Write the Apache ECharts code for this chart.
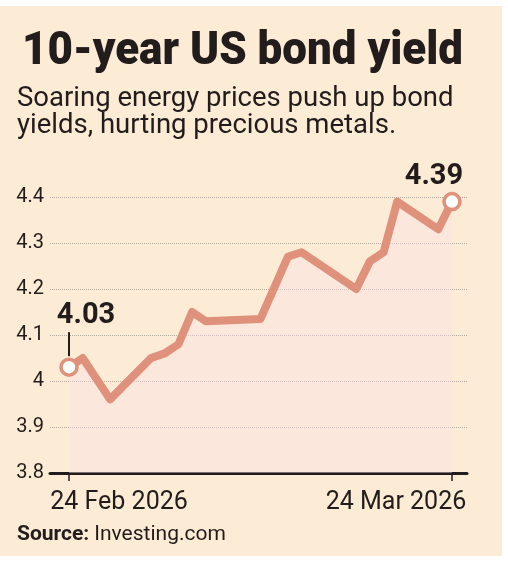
<!DOCTYPE html>
<html><head><meta charset="utf-8">
<script src="https://cdn.jsdelivr.net/npm/echarts@6/dist/echarts.min.js"></script>
<style>
html,body{margin:0;padding:0;background:#fff;}
#bg{position:absolute;left:0;top:6px;width:502px;height:550px;background:#FCEBD5;}
#chart{position:absolute;left:0;top:0;width:508px;height:561px;}
</style></head><body>
<div id="bg"></div><div id="chart"></div>
<script>
const titleText = '10-year US bond yield';
const subtitleLines = ['Soaring energy prices push up bond', 'yields, hurting precious metals.'];
const sourceLabel = 'Source:';
const sourceName = 'Investing.com';

const dates = ['2026-02-24','2026-02-25','2026-02-27','2026-03-02','2026-03-03','2026-03-04','2026-03-05','2026-03-06','2026-03-10','2026-03-12','2026-03-13','2026-03-17','2026-03-18','2026-03-19','2026-03-20','2026-03-23','2026-03-24'];
const yields = [4.03,4.05,3.96,4.05,4.06,4.08,4.15,4.13,4.135,4.27,4.28,4.20,4.26,4.28,4.39,4.33,4.39];
const yMin = 3.8, yMax = 4.4, yStep = 0.1;
const xTickDates = ['2026-02-24','2026-03-24'];
const xTickLabels = ['24 Feb 2026','24 Mar 2026'];

const DAY = 86400000;
const ts = d => { const p = d.split('-').map(Number); return Date.UTC(p[0], p[1]-1, p[2]); };
const xTicks = xTickDates.map(ts);
const seriesData = dates.map((d, i) => [ts(d), yields[i]]);

const INK = '#231c1c';
const LINE = '#DF917B';
const FONT = "Roboto, 'Noto Sans', sans-serif";
const TITLE_WEIGHT = 900;

// fit the condensed headline to its width in the reference
const mctx = document.createElement('canvas').getContext('2d');
mctx.font = TITLE_WEIGHT + " 46px Roboto, 'Noto Sans', sans-serif";
const titleScale = 441 / mctx.measureText(titleText).width;

const chart = echarts.init(document.getElementById('chart'), null, {renderer: 'canvas'});

const endIdx = seriesData.length - 1;
const markerStyle = {color: '#fff', borderColor: LINE, borderWidth: 3.5};
const data = seriesData.map((p, i) => {
  if (i === 0) return {value: p, symbol: 'circle', symbolSize: 16, itemStyle: markerStyle,
    label: {show: true, position: 'top', offset: [17, -22.5], formatter: () => yields[0].toFixed(2),
      fontFamily: FONT, fontWeight: 'bold', fontSize: 29, color: INK}};
  if (i === endIdx) return {value: p, symbol: 'circle', symbolSize: 16, itemStyle: markerStyle,
    label: {show: true, position: 'top', offset: [-18, 4.5], formatter: () => yields[endIdx].toFixed(2),
      fontFamily: FONT, fontWeight: 'bold', fontSize: 29, color: INK}};
  return {value: p, symbol: 'none'};
});

chart.setOption({
  animation: false,
  backgroundColor: 'transparent',
  grid: {left: 50, right: 41, top: 197, bottom: 88, containLabel: false},
  title: [
    {text: subtitleLines.join('\n'), left: 17, top: 86, padding: 0,
      textStyle: {fontFamily: FONT, fontWeight: 'normal', fontSize: 27.5, lineHeight: 26.5, color: INK}},
    {text: '{b|' + sourceLabel + '} {r|' + sourceName + '}', left: 17, top: 524, padding: 0,
      textStyle: {rich: {
        b: {fontFamily: FONT, fontWeight: 'bold', fontSize: 21, color: INK},
        r: {fontFamily: FONT, fontWeight: 'normal', fontSize: 21, color: INK}}}}
  ],
  graphic: [{type: 'text', x: 22, y: 29, scaleX: titleScale, z: 10,
    style: {text: titleText, fontFamily: FONT, fontWeight: TITLE_WEIGHT, fontSize: 46, fill: INK, verticalAlign: 'top'}}],
  xAxis: {
    type: 'value',
    min: xTicks[0] - 1.39 * DAY,
    max: xTicks[1] + 1.1 * DAY,
    axisLine: {show: true, lineStyle: {color: INK, width: 3}},
    axisTick: {show: true, customValues: xTicks, length: 8, lineStyle: {color: INK, width: 1.5}},
    axisLabel: {show: true, customValues: xTicks, margin: 17,
      formatter: (v) => {
        const i = xTicks.indexOf(v);
        return i === 0 ? '{l|' + xTickLabels[0] + '}' : '{r|' + xTickLabels[1] + '}';
      },
      rich: {
        l: {fontFamily: FONT, fontSize: 25, color: INK, padding: [0, 0, 0, 100]},
        r: {fontFamily: FONT, fontSize: 25, color: INK, padding: [0, 112, 0, 0]}
      }},
    splitLine: {show: false}
  },
  yAxis: {
    type: 'value', min: yMin, max: yMax, interval: yStep,
    axisLine: {show: false}, axisTick: {show: false},
    axisLabel: {margin: 6, fontFamily: FONT, fontSize: 20, color: INK,
      formatter: v => String(Math.round(v * 10) / 10)},
    splitLine: {show: true, lineStyle: {color: '#b3a99f', type: 'dotted', width: 1}}
  },
  series: [{
    type: 'line',
    data: data,
    showSymbol: true,
    symbol: 'none',
    lineStyle: {color: LINE, width: 8, join: 'round', cap: 'round'},
    areaStyle: {color: 'rgba(253,226,230,0.6)'},
    z: 3
  }]
});

// leader line above the first point
const p0 = chart.convertToPixel({seriesIndex: 0}, seriesData[0]);
chart.setOption({graphic: [{}, {type: 'line', shape: {x1: p0[0], y1: p0[1] - 11, x2: p0[0], y2: p0[1] - 35},
  style: {stroke: INK, lineWidth: 2}, z: 10}]});
</script>
</body></html>
